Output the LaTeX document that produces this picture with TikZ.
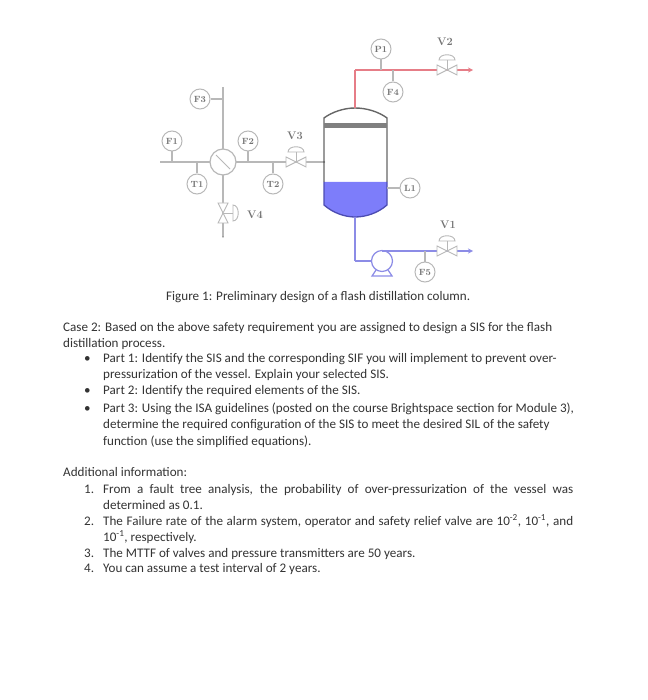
\documentclass[tikz,border=0pt]{standalone}
\usepackage{fontspec}
\newfontfamily\bodyfont{Carlito}
\usetikzlibrary{arrows,calc}
\definecolor{pipegray}{gray}{0.72}
\definecolor{labgray}{gray}{0.45}
\definecolor{txtgray}{gray}{0.2}
\definecolor{hotred}{RGB}{230,125,135}
\definecolor{liqblue}{RGB}{125,125,250}
\definecolor{linblue}{RGB}{140,140,230}
\tikzset{
    instr/.style={draw=pipegray,line width=1pt,circle,fill=white,minimum size=20pt,inner sep=0pt,text=labgray,font=\fontsize{9}{10}\selectfont\bfseries},
    vlab/.style={text=labgray,inner sep=0pt,font=\fontsize{11}{12}\selectfont\bfseries},
    txt/.style={anchor=base west,inner sep=0pt,text=txtgray,font=\bodyfont\fontsize{13.1}{15}\selectfont},
    pipe/.style={draw=pipegray,line width=1.1pt},
    valv/.style={draw=pipegray,fill=white,line width=0.9pt},
}
\begin{document}
\begin{tikzpicture}[x=1pt,y=-1pt,>=stealth]
        \useasboundingbox (0,0) rectangle (647,700);
        % --- strumenti ---
        \foreach \n/\t/\x/\y in {ff1/F1/172/141,ff2/F2/248/141,ff3/F3/200/99,tt1/T1/197/184,tt2/T2/273/184,pp1/P1/381/49,ff4/F4/393/92,ll1/L1/410/188,ff5/F5/425/272}{
            \node[instr] (\n) at (\x,\y) {\t};}
        \coordinate (feed) at (160,162);
        \coordinate (ves) at (324,162);
        \coordinate (top) at (355,108);
        \coordinate (hot) at (355,70);
        \coordinate (hotend) at (473,70);
        \coordinate (bot) at (355,217);
        \coordinate (low) at (355,261);
        \coordinate (out) at (382,251);
        \coordinate (outend) at (473,251);
        \coordinate (up) at (223,87);
        \coordinate (down) at (223,237);
        \coordinate (wall) at (387,188);
        % --- linea di alimentazione ---
        \draw[pipe] (feed) -- (ves);
        \draw[pipe] (up) -- (down);
        \fill[gray!70!black] (ves) circle (1pt);
        \fill[gray!70!black] (down) circle (0.7pt);
        \draw[pipe] (ff1) -- (ff1 |- feed);
        \draw[pipe] (ff2) -- (ff2 |- feed);
        \draw[pipe] (tt1) -- (tt1 |- feed);
        \draw[pipe] (tt2) -- (tt2 |- feed);
        \draw[pipe] (ff3) -- (ff3 -| up);
        \node[draw=pipegray,line width=1.2pt,circle,fill=white,minimum size=26pt,inner sep=0pt] (hx) at (223,162) {};
        \draw[pipegray,line width=0.9pt] (216,155) -- (222,161) -- (224,163) -- (230,169);
        % --- colonna ---
        \fill[liqblue] (324,182) -- (387,182) -- (387,205) .. controls (378,213) and (366,217) .. (bot) .. controls (345,217) and (333,213) .. (324,205) -- cycle;
        \draw[gray!80!black,line width=1.4pt] (324,182) -- (324,118) .. controls (332,112) and (344,108) .. (top) .. controls (367,108) and (379,112) .. (387,118) -- (387,182);
        \fill[gray] (324,123) rectangle (387,128);
        \draw[blue!40!gray,line width=1.3pt] (324,182) -- (324,205) .. controls (333,213) and (345,217) .. (bot) .. controls (366,217) and (378,213) .. (387,205) -- (387,182);
        \draw[pipe] (ll1) -- (wall);
        % --- testa ---
        \draw[hotred,line width=1.25pt] (top) -- (hot);
        \draw[hotred,line width=1.25pt,->] (hot) -- (hotend);
        \draw[pipe] (pp1) -- (pp1 |- hot);
        \draw[pipe] (ff4) -- (ff4 |- hot);
        % --- fondo e pompa ---
        \draw[linblue,line width=1.25pt] (bot) -- (low);
        \draw[linblue,line width=1.25pt] (low) -- (382,261);
        \node[draw=linblue,line width=1.25pt,circle,fill=white,minimum size=21pt,inner sep=0pt] (pump) at (382,261) {};
        \draw[linblue,line width=1.25pt,->] (out) -- (outend);
        \draw[linblue,line width=1.25pt] (376,270) -- (372,276) -- (392,276) -- (388,270);
        \draw[pipe] (ff5) -- (ff5 |- out);
        % --- valvole ---
        \foreach \n/\x/\y in {vv3/296/162,vv2/447/70,vv1/447/251}{
            \coordinate (\n) at (\x,\y);
            \draw[valv] ($(\n)+(-10,-5)$) -- ($(\n)+(10,5)$) -- ($(\n)+(10,-5)$) -- ($(\n)+(-10,5)$) -- cycle;
            \draw[valv] (\n) -- ++(0,-10);
            \draw[valv] ($(\n)+(-8,-10)$) .. controls ($(\n)+(-8,-17)$) and ($(\n)+(8,-17)$) .. ($(\n)+(8,-10)$) -- cycle;}
        \coordinate (vv4) at (223,213);
        \draw[valv] ($(vv4)+(-5,-10)$) -- ($(vv4)+(5,10)$) -- ($(vv4)+(-5,10)$) -- ($(vv4)+(5,-10)$) -- cycle;
        \draw[valv] (vv4) -- ++(10,0);
        \draw[valv] ($(vv4)+(10,-8)$) .. controls ($(vv4)+(17,-8)$) and ($(vv4)+(17,8)$) .. ($(vv4)+(10,8)$) -- cycle;
        \node[vlab] (lv1) at (448,225) {V1};
        \node[vlab] (lv2) at (445,42) {V2};
        \node[vlab] (lv3) at (295,136) {V3};
        \node[vlab] (lv4) at (255,215) {V4};
        % --- testo ---
        \node[txt] (caption) at (166,300) {Figure 1: Preliminary design of a flash distillation column.};
        \node[txt] (caseA) at (63,331) {Case 2: Based on the above safety requirement you are assigned to design a SIS for the flash};
        \node[txt] (caseB) at (63,347) {distillation process.};
        \foreach \n/\y in {a/362,b/394,c/412}{\node[txt] (bul\n) at (84,\y) {\textbullet};}
        \node[txt] (partA) at (103,362) {Part 1: Identify the SIS and the corresponding SIF you will implement to prevent over-};
        \node[txt] (partB) at (103,378) {pressurization of the vessel. Explain your selected SIS.};
        \node[txt] (partC) at (103,394) {Part 2: Identify the required elements of the SIS.};
        \node[txt] (partD) at (103,412) {Part 3: Using the ISA guidelines (posted on the course Brightspace section for Module 3),};
        \node[txt] (partE) at (103,428) {determine the required configuration of the SIS to meet the desired SIL of the safety};
        \node[txt] (partF) at (103,445) {function (use the simplified equations).};
        \node[txt] (addA) at (63,476) {Additional information:};
        \foreach \n/\y in {1/493,2/525,3/557,4/572}{\node[txt] (num\n) at (84,\y) {\n.};}
        \node[txt] (infoA) at (103,493) {\makebox[470pt][s]{From a fault tree analysis, the probability of over-pressurization of the vessel was}};
        \node[txt] (infoB) at (103,509) {determined as 0.1.};
        \node[txt] (infoC) at (103,525) {\makebox[470pt][s]{The Failure rate of the alarm system, operator and safety relief valve are 10\textsuperscript{-2}, 10\textsuperscript{-1}, and}};
        \node[txt] (infoD) at (103,541) {10\textsuperscript{-1}, respectively.};
        \node[txt] (infoE) at (103,557) {The MTTF of valves and pressure transmitters are 50 years.};
        \node[txt] (infoF) at (103,572) {You can assume a test interval of 2 years.};
    \end{tikzpicture}
\end{document}
